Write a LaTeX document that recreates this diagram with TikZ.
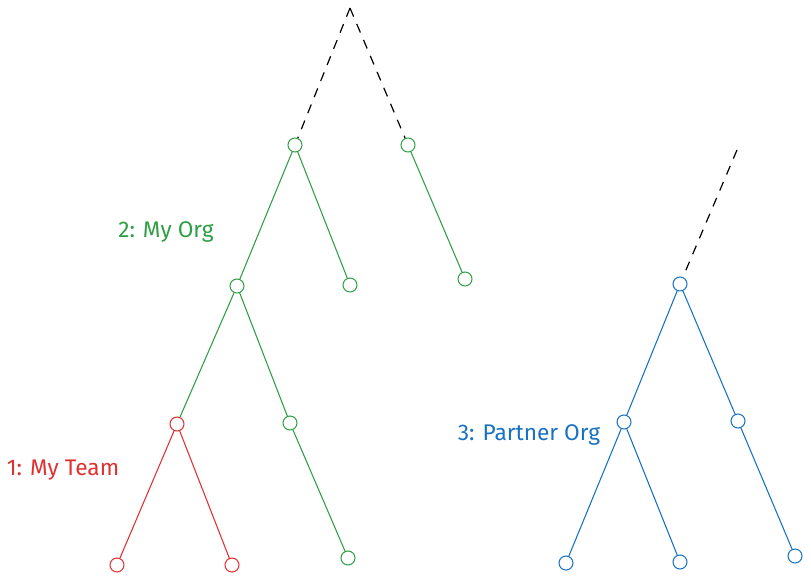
\documentclass[tikz,border=0pt]{standalone}
\usepackage{fontspec}
\setmainfont{Fira Sans}
\definecolor{orggreen}{HTML}{2F9E44}
\definecolor{teamred}{HTML}{E03131}
\definecolor{partnerblue}{HTML}{1971C2}
\tikzset{
  vert/.style={circle, draw, line width=0.8pt, minimum size=10.5pt, inner sep=0pt},
  edge/.style={line width=0.8pt},
  up/.style={line width=0.9pt, dash pattern=on 7pt off 6pt},
  tag/.style={font=\fontsize{17}{19}\selectfont}
}
\begin{document}
\begin{tikzpicture}[x=0.75pt, y=-0.75pt]

  \useasboundingbox (0,0) rectangle (811,582);

  % my org
  \coordinate (top) at (350,8);
  \node[vert, orggreen] (a) at (295,145) {};
  \node[vert, orggreen] (b) at (408,145) {};
  \node[vert, orggreen] (c) at (237,286) {};
  \node[vert, orggreen] (d) at (350,285) {};
  \node[vert, orggreen] (e) at (465,279) {};
  \node[vert, orggreen] (g) at (290,423) {};
  \node[vert, orggreen] (h) at (348,558) {};

  % my team
  \node[vert, teamred] (f) at (177,424) {};
  \node[vert, teamred] (i) at (117,565) {};
  \node[vert, teamred] (j) at (232,565) {};

  % partner org
  \coordinate (top2) at (737,150);
  \node[vert, partnerblue] (k) at (680,284) {};
  \node[vert, partnerblue] (l) at (624,422) {};
  \node[vert, partnerblue] (m) at (738,421) {};
  \node[vert, partnerblue] (n) at (566,563) {};
  \node[vert, partnerblue] (o) at (680,562) {};
  \node[vert, partnerblue] (p) at (795,556) {};

  \draw[up] (top) -- (a);
  \draw[up] (top) -- (b);
  \draw[up] (top2) -- (k);

  \draw[edge, orggreen] (a) -- (c);
  \draw[edge, orggreen] (a) -- (d);
  \draw[edge, orggreen] (b) -- (e);
  \draw[edge, orggreen] (c) -- (f);
  \draw[edge, orggreen] (c) -- (g);
  \draw[edge, orggreen] (g) -- (h);
  \draw[edge, teamred] (f) -- (i);
  \draw[edge, teamred] (f) -- (j);
  \draw[edge, partnerblue] (k) -- (l);
  \draw[edge, partnerblue] (k) -- (m);
  \draw[edge, partnerblue] (l) -- (n);
  \draw[edge, partnerblue] (l) -- (o);
  \draw[edge, partnerblue] (m) -- (p);

  \node[tag, orggreen] (orglabel) at (166,232) {2: My Org};
  \node[tag, teamred] (teamlabel) at (63,470) {1: My Team};
  \node[tag, partnerblue] (partnerlabel) at (529,435) {3: Partner Org};

\end{tikzpicture}
\end{document}
